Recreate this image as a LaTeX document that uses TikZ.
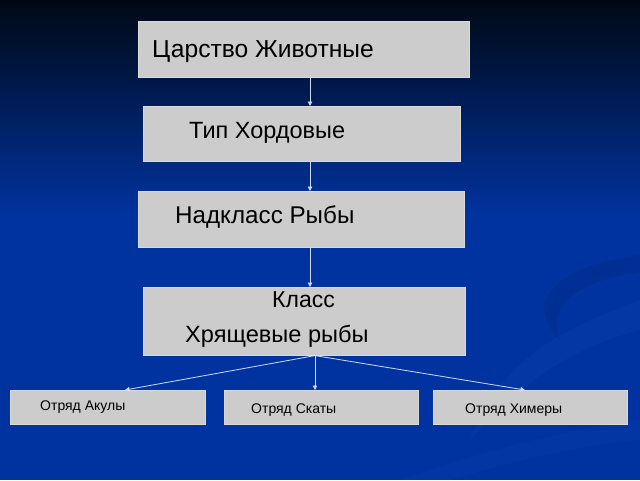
\documentclass[tikz,border=0pt]{standalone}
\usepackage{fontspec}
\setmainfont{Liberation Sans}
\usetikzlibrary{arrows.meta}
\definecolor{bgtop}{HTML}{000814}
\definecolor{bgmid}{HTML}{0033A0}
\definecolor{swoosh}{HTML}{1A4DB8}
\definecolor{boxfill}{HTML}{CCCCCC}
\definecolor{boxline}{HTML}{DADADA}
\definecolor{arrcol}{HTML}{D0DCFF}
\begin{document}
\begin{tikzpicture}[x=1pt,y=-1pt,
  box/.style={draw=boxline,line width=0.6pt,fill=boxfill,inner sep=0pt,anchor=north west},
  big/.style={font=\fontsize{#1}{28}\selectfont,anchor=base west,inner sep=0pt,text=black},
  big/.default=24,
  small/.style={font=\fontsize{14}{16}\selectfont,anchor=base west,inner sep=0pt,text=black},
  arr/.style={draw=arrcol,line width=0.8pt,-{Triangle[width=4.5pt,length=4.5pt]}}]
\useasboundingbox (0,0) rectangle (640,480);
% background
\shade[top color=bgtop,bottom color=bgmid] (0,0) rectangle (640,215);
\fill[bgmid] (0,215) rectangle (640,480);
% faint swooshes
\fill[swoosh,opacity=0.18] (640,300) .. controls (560,330) and (500,360) .. (470,440)
  .. controls (520,380) and (580,345) .. (640,330) -- cycle;
\fill[black,opacity=0.08] (640,255) .. controls (560,265) and (520,300) .. (560,340)
  .. controls (545,305) and (580,280) .. (640,272) -- cycle;
\fill[swoosh,opacity=0.12] (640,420) .. controls (560,430) and (470,455) .. (400,480)
  -- (450,480) .. controls (520,460) and (580,445) .. (640,440) -- cycle;
% boxes
\node[box,minimum width=331pt,minimum height=56pt] (b1) at (138,21) {};
\node[box,minimum width=317pt,minimum height=55pt] (b2) at (143,106) {};
\node[box,minimum width=326pt,minimum height=56pt] (b3) at (138,191) {};
\node[box,minimum width=322pt,minimum height=68pt] (b4) at (143,287) {};
\node[box,minimum width=195pt,minimum height=34pt] (b5) at (10,390) {};
\node[box,minimum width=194pt,minimum height=34pt] (b6) at (224,390) {};
\node[box,minimum width=194pt,minimum height=34pt] (b7) at (433,390) {};
% texts
\node[big=24.6] (t1) at (152,57) {Царство Животные};
\node[big=23.5] (t2) at (189,138) {Тип Хордовые};
\node[big=24.2] (t3) at (175,223) {Надкласс Рыбы};
\node[big=23] (t4) at (272,307) {Класс};
\node[big=23.6] (t5) at (185,342) {Хрящевые рыбы};
\node[small] (t6) at (40,410) {Отряд Акулы};
\node[small] (t7) at (251,413) {Отряд Скаты};
\node[small] (t8) at (465,413) {Отряд Химеры};
% connectors
\coordinate (ax) at (310,0);
\coordinate (fx) at (315,0);
\coordinate (e5) at (125,0);
\coordinate (e6) at (315,0);
\coordinate (e7) at (525,0);
\draw[arr] (b1.south -| ax) -- (b2.north -| ax);
\draw[arr] (b2.south -| ax) -- (b3.north -| ax);
\draw[arr] (b3.south -| ax) -- (b4.north -| ax);
\draw[arr] (b4.south -| fx) -- (b5.north -| e5);
\draw[arr] (b4.south -| fx) -- (b6.north -| e6);
\draw[arr] (b4.south -| fx) -- (b7.north -| e7);
\end{tikzpicture}
\end{document}
